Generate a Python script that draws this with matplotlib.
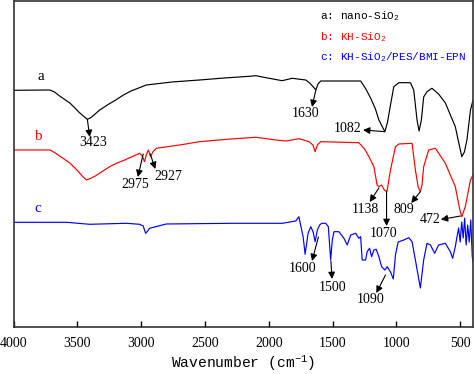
import matplotlib
matplotlib.use('Agg')
import matplotlib.pyplot as plt

# Spectrum a: nano-SiO2 (wavenumber, transmittance in arbitrary units)
wn_a = [4000, 3716, 3680, 3640, 3600, 3560, 3520, 3490, 3455, 3423, 3400, 3380, 3326, 3260,
        3200, 3140, 3080, 2961, 2760, 2544, 2350, 2154, 2102, 1998, 1896, 1818, 1711, 1680,
        1645, 1632, 1615, 1594, 1281, 1240, 1203, 1165, 1138, 1110, 1091, 1070, 1050, 1021,
        982, 891, 865, 839, 823, 805, 787, 761, 722, 670, 617, 539, 505, 488, 468, 448, 420, 400]
t_a = [236.7, 237, 235, 231, 227.5, 224, 219, 215, 211, 207.7, 209, 211, 217, 222.5,
       227, 232, 236, 242, 245, 247, 249, 250.7, 251.3, 248.7, 246.3, 248.7, 247, 244,
       239, 237, 243, 246, 246, 238, 229, 218, 207, 200, 195.3, 205, 220, 240.3,
       244.3, 244.3, 237, 207, 196, 207, 230, 235.3, 238.7, 233, 224, 200.3, 180, 170.3, 175,
       187, 217, 227]

# Spectrum b: KH-SiO2
wn_b = [4000, 3716, 3680, 3640, 3600, 3560, 3520, 3490, 3460, 3430, 3400, 3360, 3300, 3248,
        3190, 3130, 3013, 2992, 2975, 2961, 2945, 2927, 2910, 2883, 2700, 2544, 2300, 2102,
        1945, 1867, 1763, 1685, 1655, 1638, 1620, 1594, 1295, 1250, 1216, 1177, 1152, 1138,
        1117, 1095, 1075, 1047, 1008, 982, 878, 852, 830, 813, 800, 787, 748, 695, 617, 539,
        505, 488, 461, 420, 400]
t_b = [177, 177, 174.5, 171, 167.5, 164, 159, 155, 150.5, 147, 148.5, 151, 156, 160.3,
       164, 167, 173.7, 171, 165.3, 172, 177, 170.3, 175, 178.7, 182, 185.3, 188, 189.7,
       187, 186, 188.3, 185.3, 182, 175.3, 182, 185.3, 184.3, 178, 170.3, 160.3, 142, 140.3,
       142, 137, 135.3, 157, 180.3, 183, 183.7, 157, 140, 135.3, 142, 160.3, 177, 178.7,
       163.7, 140.3, 118, 110.3, 120.3, 147, 152]

# Spectrum c: KH-SiO2/PES/BMI-EPN
wn_c = [4000, 3586, 3404, 3117, 3013, 2985, 2966, 2950, 2935, 2805, 2287, 1894, 1789, 1765,
        1732, 1716, 1693, 1672, 1654, 1638, 1620, 1602, 1586, 1555, 1534, 1516, 1503, 1490,
        1451, 1412, 1386, 1359, 1320, 1295, 1281, 1269, 1242, 1230, 1211, 1195, 1177, 1159,
        1138, 1117, 1091, 1073, 1047, 1025, 1008, 987, 943, 904, 878, 852, 813, 787, 761,
        734, 701, 670, 617, 578, 560, 539, 526, 513, 501, 489, 477, 466, 454, 442, 430, 418,
        406, 400]
t_c = [104.7, 104.7, 102.7, 103.7, 102.7, 101, 93.7, 96, 98.7, 103, 103.7, 103.7, 106, 110.3,
       90.3, 72.7, 93.7, 100.3, 95.3, 85.3, 97, 102, 103.7, 103.7, 100.3, 67, 87, 95.3,
       95.3, 88.7, 82, 92, 93.7, 88.7, 90.3, 67, 67, 75.3, 78.7, 70.3, 77, 77.7,
       70.3, 60.3, 57, 60.3, 55, 48, 72, 85, 87, 89.3, 85.3, 67, 39, 67, 83.7,
       82, 73.7, 82, 83.7, 75.3, 68.7, 80.3, 90.3, 99, 85, 105, 89, 109, 82, 102, 85, 107,
       70, 65]

# peak labels: (text, curve point, arrow head, text position)
peaks = [
    ('3423', (3423, 207.7), (3404, 190), (3380, 184)),
    ('1630', (1632, 237), (1662, 220), (1716, 213)),
    ('1082', (1091, 195.3), (1262, 197), (1386, 198)),
    ('2975', (2985, 173), (3027, 150), (3045, 142)),
    ('2927', (2930, 173), (2890, 158), (2792, 150)),
    ('1138', (1138, 139), (1210, 125), (1242, 117)),
    ('1070', (1078, 135.3), (1078, 101), (1099, 93)),
    ('809', (813, 135.3), (884, 124), (943, 117)),
    ('472', (498, 111), (652, 107.5), (734, 107.7)),
    ('1600', (1612, 90), (1662, 66), (1737, 58.7)),
    ('1500', (1514, 66), (1505, 48), (1503, 39.7)),
    ('1090', (1086, 52), (1158, 34), (1203, 27)),
]

fig = plt.figure(figsize=(4.74, 3.74), dpi=100)
ax = fig.add_axes([0.0289, 0.1257, 0.9691, 0.8703])

ax.plot(wn_a, t_a, color='black', lw=0.85)
ax.plot(wn_b, t_b, color='red', lw=0.85)
ax.plot(wn_c, t_c, color='blue', lw=0.85)

ax.set_xlim(4000, 400)
ax.set_ylim(0, 325.5)
ax.set_yticks([])
ax.set_xticks([4000, 3500, 3000, 2500, 2000, 1500, 1000, 500])
ax.tick_params(axis='x', direction='in', length=4, width=1, labelsize=10, pad=7)
for lbl in ax.get_xticklabels():
    lbl.set_fontfamily('Liberation Serif')
for sp in ax.spines.values():
    sp.set_linewidth(1.2)
    sp.set_color('#333333')

ax.set_xlabel(r'Wavenumber (cm$\mathregular{^{-1}}$)', fontsize=10.5,
              family='Liberation Mono', labelpad=2.5)

# curve letters
ax.text(3787, 250, 'a', color='black', fontsize=11, family='Liberation Serif', ha='center', va='center')
ax.text(3810, 190.3, 'b', color='red', fontsize=11, family='Liberation Serif', ha='center', va='center')
ax.text(3810, 118.7, 'c', color='blue', fontsize=11, family='Liberation Serif', ha='center', va='center')

for txt, tail, head, pos in peaks:
    ax.annotate('', xy=head, xytext=tail,
                arrowprops=dict(arrowstyle='-|>', color='black', lw=0.8,
                                mutation_scale=10, shrinkA=0, shrinkB=0))
    ax.text(pos[0], pos[1], txt, fontsize=10, family='Liberation Serif',
            ha='center', va='center')

# legend texts
ax.text(0.667, 0.956, r'a: nano-SiO$\mathregular{_2}$', transform=ax.transAxes,
        color='black', fontsize=8, family='Liberation Mono', va='center')
ax.text(0.667, 0.890, r'b: KH-SiO$\mathregular{_2}$', transform=ax.transAxes,
        color='red', fontsize=8, family='Liberation Mono', va='center')
ax.text(0.667, 0.829, r'c: KH-SiO$\mathregular{_2}$/PES/BMI-EPN', transform=ax.transAxes,
        color='blue', fontsize=8, family='Liberation Mono', va='center')

fig.savefig('out.png', dpi=100)
plt.close(fig)
